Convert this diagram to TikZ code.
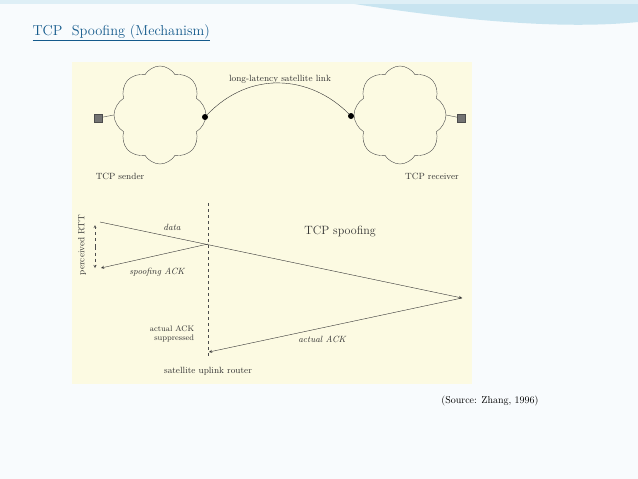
\documentclass[tikz,border=0pt]{standalone}
\usepackage{tikz}
\usetikzlibrary{shapes.symbols,calc}
\definecolor{slidebg}{RGB}{248,251,253}
\definecolor{panel}{RGB}{252,250,226}
\definecolor{titleblue}{RGB}{20,90,140}
\definecolor{wave}{RGB}{200,228,240}
\tikzset{
  netcloud/.style={cloud,cloud puffs=8,cloud puff arc=120,aspect=0.9,draw=black!70,fill=panel,minimum width=92pt,minimum height=98pt},
  hostbox/.style={draw=black!70,fill=black!55,minimum size=8pt,inner sep=0pt},
  linkdot/.style={circle,fill=black,inner sep=0pt,minimum size=6pt},
  lbl/.style={font=\small,text=black!80},
  ilbl/.style={font=\small\itshape,text=black!80},
  msg/.style={-stealth,black!80},
}
\begin{document}
\begin{tikzpicture}[x=1pt,y=-1pt]
\fill[slidebg] (0,0) rectangle (638,479);
\fill[wave] (330,0) .. controls (450,20) and (560,30) .. (638,22) -- (638,0) -- cycle;
\fill[wave!60] (0,0) rectangle (638,4);
\node[anchor=west,text=titleblue,font=\Large] (title) at (29,33) {\underline{TCP\ \ Spoofing (Mechanism)}};
\fill[panel] (72,62) rectangle (472,384);

% network
\node[netcloud] (snet) at (160,115) {};
\node[netcloud] (rnet) at (400,115) {};
\node[hostbox] (shost) at (98,118) {};
\node[hostbox] (rhost) at (461,118) {};
\node[linkdot] (sdot) at (205,117) {};
\node[linkdot] (rdot) at (351,116) {};
\draw[black!70] (shost) -- (snet.west);
\draw[black!70] (rhost) -- (rnet.east);
\draw[black!80] (sdot) .. controls (250,70) and (310,75) .. (rdot);
\node[lbl] (linklbl) at (280,79) {long-latency satellite link};
\node[lbl] (sender) at (120,176) {TCP sender};
\node[lbl] (receiver) at (432,176) {TCP receiver};

% time diagram
\coordinate (d0) at (100,222);
\coordinate (rt) at (208,244);
\coordinate (far) at (462,298);
\coordinate (s1) at (101,268);
\coordinate (a1) at (209,352);
\coordinate (rtop) at (208,203);
\coordinate (rbot) at (208,358);
\draw[dashed,black!70] (rtop) -- (rbot);
\draw[msg] (d0) -- (far);
\draw[msg] (rt) -- (s1);
\draw[msg] (far) -- (a1);
\coordinate (rtt0) at (95,225);
\coordinate (rtt1) at (95,268);
\draw[dashed,-stealth,black!70] ($(rtt0)!0.5!(rtt1)$) -- (rtt0);
\draw[dashed,-stealth,black!70] ($(rtt0)!0.5!(rtt1)$) -- (rtt1);
\node[lbl,rotate=90] (rttlbl) at (82,245) {perceived RTT};
\node[ilbl] (datalbl) at (172,227) {data};
\node[ilbl] (spooflbl) at (157,272) {spoofing ACK};
\node[font=\large,text=black!80] (spoofing) at (340,232) {TCP spoofing};
\node[font=\footnotesize,align=right,text=black!80,inner sep=0pt] (suppr) at (172,334) {actual ACK\\suppressed};
\node[ilbl] (actlbl) at (322,339) {actual ACK};
\node[lbl] (router) at (208,371) {satellite uplink router};

\node[font=\normalsize] (source) at (490,401) {(Source: Zhang, 1996)};
\end{tikzpicture}
\end{document}
